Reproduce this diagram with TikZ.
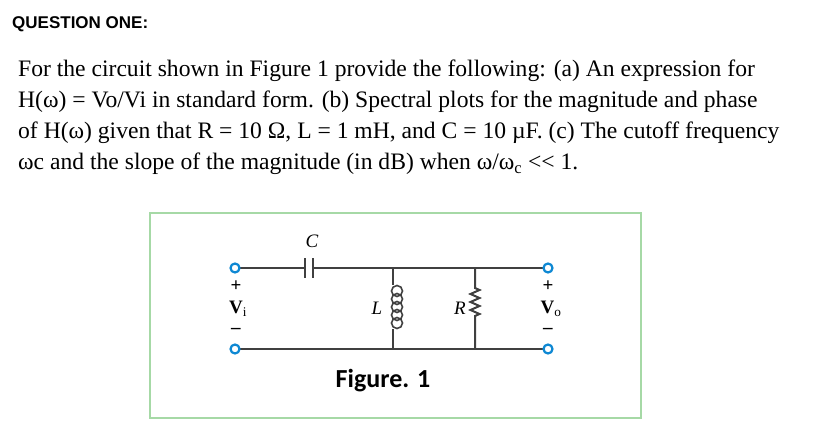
\documentclass[tikz,border=0pt]{standalone}
\usepackage{fontspec}
\setmainfont{Liberation Serif}
\newfontfamily\hsans{Liberation Sans}
\newfontfamily\fsans{Carlito}
\begin{document}
\begin{tikzpicture}[x=1pt,y=-1pt,
  para/.style={anchor=base west,inner sep=0,font=\fontsize{23.6}{28}\selectfont},
  wire/.style={draw=black!75,line width=2pt},
  term/.style={circle,draw=cyan!70!blue,line width=2.2pt,fill=white,inner sep=0,minimum size=9pt},
  lab/.style={inner sep=0,font=\fontsize{19}{22}\selectfont}]
\useasboundingbox (0,0) rectangle (828,425);
\node[anchor=base west,inner sep=0,font=\hsans\bfseries\fontsize{17}{20}\selectfont] (q) at (12,29) {QUESTION ONE:};
\node[para] (l1) at (18,77) {For the circuit shown in Figure 1 provide the following: (a) An expression for};
\node[para] (l2) at (18,108) {H(ω) = Vo/Vi in standard form. (b) Spectral plots for the magnitude and phase};
\node[para] (l3) at (18,139) {of H(ω) given that R = 10 Ω, L = 1 mH, and C = 10 µF. (c) The cutoff frequency};
\node[para] (l4) at (18,170) {ωc and the slope of the magnitude (in dB) when ω/ω$_\mathrm{c}$ {<}{<} 1.};
\draw[draw=green!40!gray!50,line width=1.5pt] (150,213) rectangle (641,418);
\coordinate (c1) at (305,268); \coordinate (c2) at (313,268);
\coordinate (lt) at (393,268); \coordinate (lb) at (393,349);
\coordinate (rt) at (475,268); \coordinate (rb) at (475,349);
\draw[wire] (235,268) -- (c1);
\draw[wire] (c1) ++(0,-10) -- ++(0,20);
\draw[wire] (c2) ++(0,-10) -- ++(0,20);
\draw[wire] (c2) -- (548,268);
\draw[wire] (235,349) -- (548,349);
% inductor
\draw[wire] (lt) -- (393,285);
\draw[wire] (393,329) -- (lb);
\foreach \yy in {291,299,307,315,323}{\draw[wire,line width=1.6pt] (397,\yy) ellipse (5.5 and 5.5);}
% resistor
\draw[wire] (rt) -- (475,288) -- (479.5,290) -- (470.5,294) -- (479.5,298) -- (470.5,302) -- (479.5,306) -- (470.5,310) -- (479.5,314) -- (475,316) -- (rb);
\node[term] (a) at (235,268) {}; \node[term] (b) at (235,349) {};
\node[term] (c) at (548,268) {}; \node[term] (d) at (548,349) {};
\node[lab,font=\itshape\fontsize{19}{22}\selectfont] (cl) at (312,241) {C};
\node[lab,font=\itshape\fontsize{19}{22}\selectfont] (ll) at (377,308) {L};
\node[lab,font=\itshape\fontsize{19}{22}\selectfont] (rl) at (460,308) {R};
\node[lab] (p1) at (236,286) {\textbf{+}};
\node[lab] (v1) at (238,309) {\textbf{V}$_\mathrm{i}$};
\node[lab] (m1) at (236,331) {\textbf{–}};
\node[lab] (p2) at (548,286) {\textbf{+}};
\node[lab] (v2) at (551,309) {\textbf{V}$_\mathrm{o}$};
\node[lab] (m2) at (548,331) {\textbf{–}};
\node[inner sep=0,font=\fsans\bfseries\fontsize{26}{30}\selectfont] (fig) at (383,381) {Figure. 1};
\end{tikzpicture}
\end{document}
